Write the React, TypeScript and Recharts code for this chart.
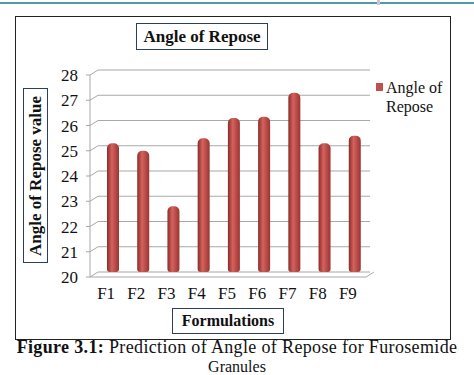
import { BarChart, Bar, XAxis, YAxis, CartesianGrid } from 'recharts';

const formulations = ['F1', 'F2', 'F3', 'F4', 'F5', 'F6', 'F7', 'F8', 'F9'];
const angleValues = [25.1, 24.8, 22.6, 25.3, 26.1, 26.15, 27.1, 25.1, 25.4];
const yTicks = [20, 21, 22, 23, 24, 25, 26, 27, 28];
const seriesName = 'Angle of Repose';

const data = formulations.map((f, i) => ({ name: f, value: angleValues[i] }));

const serif = '"Liberation Serif", "Times New Roman", serif';
const boxBorder = '1.5px solid #2b3f66';
const STEP = 25.25; // pixel gap between y ticks, used for the front axis segments

// y tick with the little perspective stub and the front axis / floor lines
const YTick = (props: any) => {
  const { x, y, payload } = props;
  const fx = x;
  const fy = y + 5;
  const v = payload.value;
  return (
    <g>
      <text x={fx - 12} y={fy} dy={6} textAnchor="end" fontSize={17} fontFamily={serif} fill="#111">
        {v}
      </text>
      <line x1={fx} y1={fy} x2={fx + 8} y2={y} stroke="#a8a8a8" />
      <line x1={fx - 4} y1={fy} x2={fx} y2={fy} stroke="#a8a8a8" />
      {v < 28 && <line x1={fx} y1={fy} x2={fx} y2={fy - STEP} stroke="#a8a8a8" />}
      {v === 20 && (
        <g>
          <line x1={fx} y1={fy} x2={fx + 276} y2={fy} stroke="#a8a8a8" />
          <line x1={fx + 276} y1={fy} x2={fx + 284} y2={y} stroke="#a8a8a8" />
        </g>
      )}
    </g>
  );
};

const XTick = (props: any) => {
  const { x, y, payload } = props;
  return (
    <text x={x - 7} y={y} dy={19} textAnchor="middle" fontSize={17} fontFamily={serif} fill="#111">
      {payload.value}
    </text>
  );
};

export default function App() {
  return (
    <div
      style={{
        position: 'absolute',
        left: 0,
        top: 0,
        width: 474,
        height: 375,
        overflow: 'hidden',
        background: '#fff',
        fontFamily: serif,
      }}
    >
      <div style={{ position: 'absolute', left: 0, top: 2, width: 474, height: 2, background: '#4f9aa6' }} />
      <div style={{ position: 'absolute', left: 377, top: 0, width: 3, height: 5, background: '#c8c8c8' }} />
      <div
        style={{
          position: 'absolute',
          left: 15,
          top: 16,
          width: 434,
          height: 322,
          border: '1px solid #222',
        }}
      />
      <div style={{ position: 'absolute', left: 0, top: 0 }}>
        <BarChart width={474} height={375} data={data} margin={{ top: 70, right: 104, bottom: 63, left: 38 }}>
          <defs>
            <linearGradient id="cyl" x1="0" y1="0" x2="1" y2="0">
              <stop offset="0%" stopColor="#8a2b28" />
              <stop offset="40%" stopColor="#d4625e" />
              <stop offset="100%" stopColor="#9b3431" />
            </linearGradient>
          </defs>
          <CartesianGrid vertical={false} stroke="#a8a8a8" strokeWidth={1.2} />
          <XAxis
            dataKey="name"
            axisLine={false}
            tickLine={false}
            tick={<XTick />}
            interval={0}
            height={40}
          />
          <YAxis
            domain={[20, 28]}
            ticks={yTicks}
            interval={0}
            axisLine={false}
            tickLine={false}
            tick={<YTick />}
            width={60}
          />
          <Bar
            dataKey="value"
            name={seriesName}
            fill="url(#cyl)"
            barSize={12}
            radius={[5, 5, 3, 3]}
            isAnimationActive={false}
          />
        </BarChart>
      </div>
      <div
        style={{
          position: 'absolute',
          left: 376,
          top: 78,
          display: 'flex',
          fontSize: 16,
          lineHeight: '19px',
          color: '#111',
        }}
      >
        <div style={{ width: 7, height: 8, background: '#c0504d', marginTop: 5, marginRight: 3 }} />
        <div>
          Angle of
          <br />
          Repose
        </div>
      </div>
      <div
        style={{
          position: 'absolute',
          left: 136,
          top: 23,
          width: 130,
          height: 25,
          border: boxBorder,
          fontWeight: 'bold',
          fontSize: 17,
          lineHeight: '25px',
          textAlign: 'center',
          color: '#111',
        }}
      >
        Angle of Repose
      </div>
      <div
        style={{
          position: 'absolute',
          left: 23,
          top: 88,
          width: 23,
          height: 173,
          border: boxBorder,
        }}
      >
        <div
          style={{
            position: 'absolute',
            left: 11.5,
            top: 86.5,
            transform: 'translate(-50%, -50%) rotate(-90deg)',
            whiteSpace: 'nowrap',
            fontWeight: 'bold',
            fontSize: 17,
            color: '#111',
          }}
        >
          Angle of Repose value
        </div>
      </div>
      <div
        style={{
          position: 'absolute',
          left: 172,
          top: 308,
          width: 110,
          height: 24,
          border: boxBorder,
          fontWeight: 'bold',
          fontSize: 16,
          lineHeight: '24px',
          textAlign: 'center',
          color: '#111',
        }}
      >
        Formulations
      </div>
      <div
        style={{
          position: 'absolute',
          left: 0,
          top: 337,
          width: 474,
          textAlign: 'center',
          fontSize: 18,
          lineHeight: '20px',
          letterSpacing: 0.35,
          color: '#111',
        }}
      >
        <b>Figure 3.1:</b> Prediction of Angle of Repose for Furosemide
      </div>
      <div
        style={{
          position: 'absolute',
          left: 0,
          top: 358,
          width: 474,
          textAlign: 'center',
          fontSize: 16,
          lineHeight: '17px',
          color: '#111',
        }}
      >
        Granules
      </div>
    </div>
  );
}
